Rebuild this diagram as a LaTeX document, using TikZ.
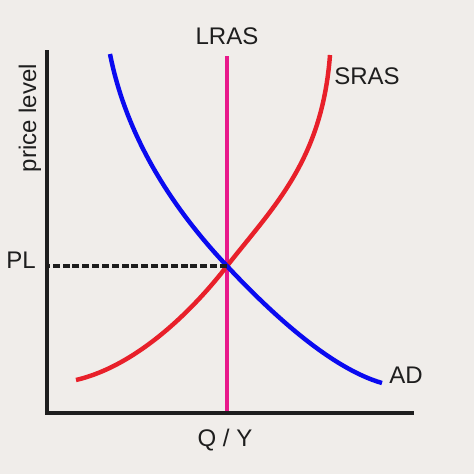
\documentclass[tikz,border=0pt]{standalone}
\usepackage{fontspec}
\setmainfont{Liberation Sans}
\definecolor{asbg}{HTML}{F0EDEA}
\definecolor{asink}{HTML}{1E1E1E}
\definecolor{asblue}{HTML}{0A0AF0}
\definecolor{asred}{HTML}{E8202A}
\definecolor{aspink}{HTML}{E8198B}

\begin{document}
\begin{tikzpicture}[x=0.03cm, y=-0.03cm,
  axisline/.style={asink, line width=3.4pt},
  curveline/.style={line width=3.8pt, line cap=butt},
  lbl/.style={asink, font=\fontsize{20.5}{24}\selectfont, inner sep=0pt}]
  \fill[asbg] (0,0) rectangle (474,474);
  \useasboundingbox (0,0) rectangle (474,474);
  \coordinate (eq) at (227,266);
  % axes
  \draw[axisline] (47,50) -- (47,413) -- (414,413);
  \node[lbl, rotate=90] (ylab) at (30,118) {price level};
  \node[lbl, anchor=base] (xlab) at (225,446) {Q / Y};
  % long run supply
  \draw[aspink, line width=3pt] (227,56) -- (227,411);
  \node[lbl, anchor=base] (lras) at (227,44) {LRAS};
  % short run supply and demand
  \draw[asred, curveline] (76,380) .. controls (140,365) and (197,305) .. (eq)
    .. controls (275,205) and (322,160) .. (330,55);
  \draw[asblue, curveline] (110,54) .. controls (128,145) and (180,216) .. (eq)
    .. controls (270,312) and (330,368) .. (382,383);
  \node[lbl, anchor=base] (sras) at (367,84) {SRAS};
  \node[lbl, anchor=base] (ad) at (406,383) {AD};
  % price level
  \draw[asink, line width=2.6pt, dash pattern=on 6pt off 2.4pt] (eq) -- (47,266);
  \node[lbl, anchor=base] (pl) at (21,268) {PL};
\end{tikzpicture}
\end{document}
